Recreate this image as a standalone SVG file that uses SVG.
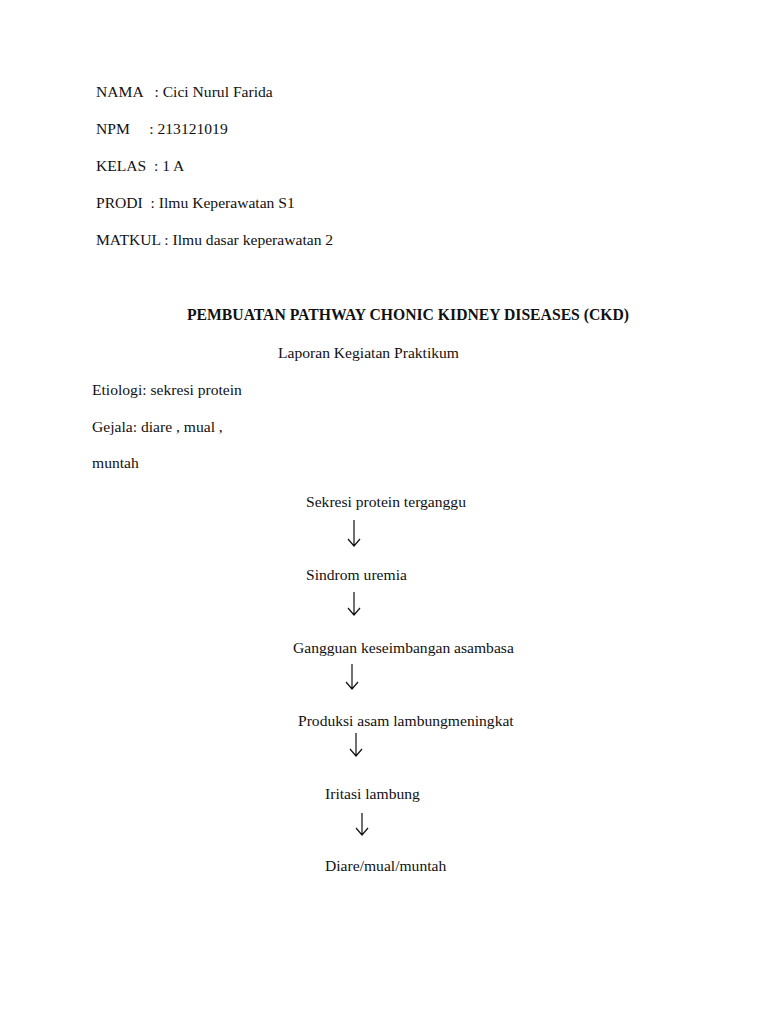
<svg xmlns="http://www.w3.org/2000/svg" width="768" height="1024" viewBox="0 0 768 1024">
<style>
text{font-family:"Liberation Serif","Times New Roman",serif;font-size:15.6px;fill:#111;white-space:pre}
.b{font-weight:bold;font-size:15.7px}
.arr{stroke:#111;stroke-width:1.2;fill:none}
</style>
<rect width="768" height="1024" fill="#fff"/>
<g id="header">
<text x="96" y="97" xml:space="preserve">NAMA   : Cici Nurul Farida</text>
<text x="96" y="134" xml:space="preserve">NPM     : 213121019</text>
<text x="96" y="171" xml:space="preserve">KELAS  : 1 A</text>
<text x="96" y="208" xml:space="preserve">PRODI  : Ilmu Keperawatan S1</text>
<text x="96" y="245">MATKUL : Ilmu dasar keperawatan 2</text>
<text x="187" y="320" class="b">PEMBUATAN PATHWAY CHONIC KIDNEY DISEASES (CKD)</text>
<text x="278" y="358">Laporan Kegiatan Praktikum</text>
<text x="92" y="395">Etiologi: sekresi protein</text>
<text x="92" y="432">Gejala: diare , mual ,</text>
<text x="92" y="468">muntah</text>
</g>
<g id="n1"><text x="306" y="507">Sekresi protein terganggu</text></g>
<g id="n2"><text x="306" y="580">Sindrom uremia</text></g>
<g id="n3"><text x="293" y="653">Gangguan keseimbangan asambasa</text></g>
<g id="n4"><text x="298" y="726">Produksi asam lambungmeningkat</text></g>
<g id="n5"><text x="325" y="799">Iritasi lambung</text></g>
<g id="n6"><text x="325" y="871">Diare/mual/muntah</text></g>
<g id="connectors">
<path class="arr" d="M354 520V546M348 539L354 546L360 539"/>
<path class="arr" d="M354 592V615M348 608L354 615L360 608"/>
<path class="arr" d="M352 664V689M346 682L352 689L358 682"/>
<path class="arr" d="M356 733V756M350 749L356 756L362 749"/>
<path class="arr" d="M362 813V835M356 828L362 835L368 828"/>
</g>
</svg>
